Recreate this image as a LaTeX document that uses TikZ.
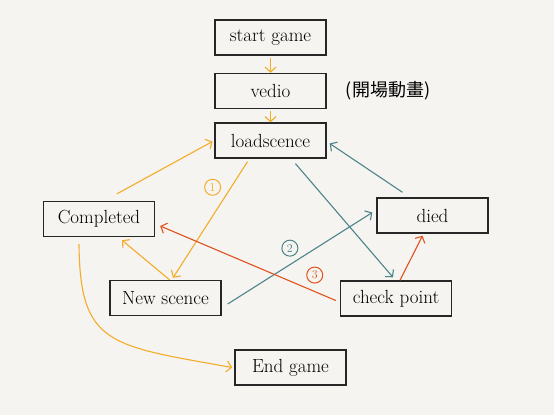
\documentclass[tikz,border=0pt]{standalone}
\usepackage{fontspec}
\usepackage{xcolor}
\usepackage{tikz}
\usetikzlibrary{arrows.meta, positioning, calc}
\newfontfamily\cjkfont{Noto Sans CJK TC}
\definecolor{paper}{HTML}{F5F4F0}
\definecolor{gold}{HTML}{F4AC2A}
\definecolor{teal}{HTML}{4E8489}
\definecolor{rust}{HTML}{E0521E}

\begin{document}
\begin{tikzpicture}[
    x=1pt, y=-1pt,
    >={Straight Barb[length=5pt, width=11pt]},
    box/.style={rectangle, draw=black!85, line width=1.4pt, fill=paper, minimum width=111pt, minimum height=35pt, align=center, font=\fontsize{19}{22}\selectfont},
    goldarrow/.style={draw=gold, line width=1.1pt, ->},
    tealarrow/.style={draw=teal, line width=1.1pt, ->},
    rustarrow/.style={draw=rust, line width=1.1pt, ->},
    num/.style={circle, draw, line width=1pt, inner sep=0pt, minimum size=16pt, font=\fontsize{12}{13}\selectfont}
]
    % Paper
    \fill[paper] (0,0) rectangle (554,415);
    \useasboundingbox (0,0) rectangle (554,415);

    % Layout of the states
    \node[box] (START)  at (270.5, 37.5) {start game};
    \node[box] (VEDIO)  at (270.5, 91)   {vedio};
    \node[box] (LOAD)   at (270.5, 140.5) {loadscence};
    \node[box] (COMP)   at (99, 219)     {Completed};
    \node[box] (NEWSC)  at (165.5, 298)  {New scence};
    \node[box] (DIED)   at (432.5, 215.5) {died};
    \node[box] (CHECK)  at (396, 298.5)  {check point};
    \node[box] (ENDG)   at (290.5, 367.5) {End game};
    \node[font=\cjkfont\fontsize{18}{20}\selectfont] (NOTE) at (388, 91) {(開場動畫)};

    % Opening sequence
    \draw[goldarrow, shorten <=2pt] (START.south) -- (VEDIO.north);
    \draw[goldarrow, shorten <=2pt] (VEDIO.south) -- (LOAD.north);

    % Path 1
    \draw[goldarrow] ([xshift=-23pt, yshift=-3pt]LOAD.south) -- ([xshift=7.5pt, yshift=2pt]NEWSC.north)
        node[pos=0.22, num, gold, left=10pt] (N1) {1};
    \draw[goldarrow] ([xshift=4pt]NEWSC.north) -- ([xshift=23pt, yshift=-3pt]COMP.south);
    \draw[goldarrow, shorten >=2pt] ([xshift=18pt, yshift=7pt]COMP.north) -- (LOAD.west);

    % Path 2
    \draw[tealarrow] ([xshift=25pt, yshift=-5pt]LOAD.south) -- ([xshift=-3pt, yshift=3pt]CHECK.north);
    \draw[tealarrow] ([xshift=6pt, yshift=-6pt]NEWSC.east) -- ([xshift=-4pt, yshift=3pt]DIED.west)
        node[pos=0.43, num, teal, above=8pt] (N2) {2};
    \draw[tealarrow] ([xshift=-30pt, yshift=5pt]DIED.north) -- ([xshift=3pt, yshift=-3pt]LOAD.east);

    % Path 3
    \draw[rustarrow] ([xshift=4pt]CHECK.north) -- ([xshift=-10pt, yshift=-2pt]DIED.south);
    \draw[rustarrow] ([xshift=-4pt, yshift=-2pt]CHECK.west) -- ([xshift=5pt, yshift=-7pt]COMP.east)
        node[pos=0.12, num, rust, above=8pt] (N3) {3};

    % Game over
    \draw[goldarrow] ([xshift=-20pt, yshift=-7pt]COMP.south) .. controls +(1,101) and +(-123,-22) .. ([xshift=-2pt]ENDG.west);
\end{tikzpicture}
\end{document}
